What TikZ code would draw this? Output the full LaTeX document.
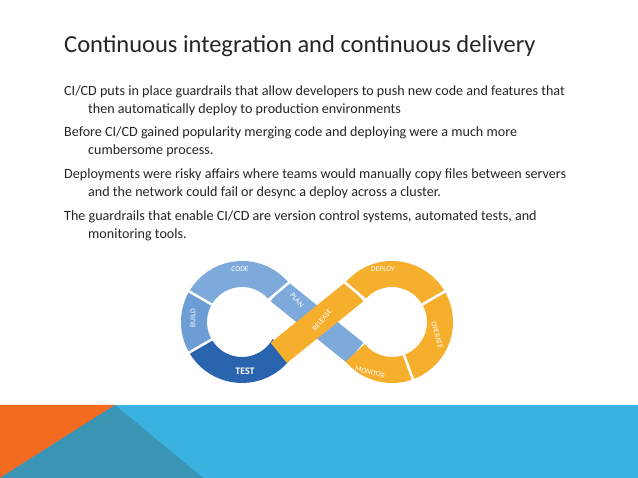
\documentclass[tikz,border=0pt]{standalone}
\usepackage{fontspec}
\setmainfont{Carlito}
\begin{document}
\begin{tikzpicture}[x=1pt,y=1pt,
  body/.style={anchor=base west,inner sep=0pt,font=\fontsize{14.1}{16}\selectfont,text=black!85},
  lbl/.style={text=white,font=\fontsize{7.5}{8}\selectfont,inner sep=0pt},
  seg/.style={line width=26pt},
  cut/.style={white,line width=2.5pt}]
\definecolor{lb}{HTML}{7EAADB}
\definecolor{mb}{HTML}{6C9DD4}
\definecolor{db}{HTML}{2A64AE}
\definecolor{og}{HTML}{F6AE2D}
\definecolor{orr}{HTML}{F26B21}
\definecolor{teal}{HTML}{3A94B4}
\definecolor{sky}{HTML}{3AB2DF}
\useasboundingbox (0,0) rectangle (638,478);
\fill[white] (0,0) rectangle (638,478);
% bottom band
\fill[sky] (0,0) rectangle (638,73);
\fill[orr] (0,73) -- (115,73) -- (0,0) -- cycle;
\fill[teal] (115,73) -- (203,0) -- (0,0) -- cycle;
% title
\node[anchor=base west,inner sep=0pt,font=\fontsize{24.5}{28}\selectfont,text=black!85] (title) at (64,425) {Continuous integration and continuous delivery};
% body
\node[body] (l1) at (64,382) {CI/CD puts in place guardrails that allow developers to push new code and features that};
\node[body] (l2) at (88,364) {then automatically deploy to production environments};
\node[body] (l3) at (64,341) {Before CI/CD gained popularity merging code and deploying were a much more};
\node[body] (l4) at (88,323) {cumbersome process.};
\node[body] (l5) at (64,299) {Deployments were risky affairs where teams would manually copy files between servers};
\node[body] (l6) at (88,281) {and the network could fail or desync a deploy across a cluster.};
\node[body] (l7) at (64,257) {The guardrails that enable CI/CD are version control systems, automated tests, and};
\node[body] (l8) at (88,239) {monitoring tools.};
% infinity
\coordinate (L) at (242,156);
\coordinate (R) at (392,156);
\draw[seg,lb] ([shift={(40:48)}]L) -- ([shift={(220:48)}]R);
\draw[seg,lb] ([shift={(40:48)}]L) arc (40:150:48);
\draw[seg,mb] ([shift={(150:48)}]L) arc (150:210:48);
\draw[seg,db] ([shift={(210:48)}]L) arc (210:330:48);
\draw[seg,og] ([shift={(140:48)}]R) arc (140:30:48);
\draw[seg,og] ([shift={(30:48)}]R) arc (30:-70:48);
\draw[seg,og] ([shift={(-70:48)}]R) arc (-70:-140:48);
\draw[seg,og] ([shift={(-40:48)}]L) -- ([shift={(140:48)}]R);
\draw[cut] ([shift={(150:34)}]L) -- ([shift={(150:62)}]L);
\draw[cut] ([shift={(210:34)}]L) -- ([shift={(210:62)}]L);
\draw[cut] ([shift={(30:34)}]R) -- ([shift={(30:62)}]R);
\draw[cut] ([shift={(-70:34)}]R) -- ([shift={(-70:62)}]R);
\draw[cut] ([shift={(40:34)}]L) -- ([shift={(40:62)}]L);
\draw[cut] ([shift={(140:34)}]R) -- ([shift={(140:62)}]R);
% labels
\node[lbl] (code) at (240,209) {CODE};
\node[lbl,rotate=90] (build) at (193,160) {BUILD};
\node[lbl,font=\fontsize{10}{12}\selectfont\bfseries] (test) at (245,107) {TEST};
\node[lbl,rotate=-50] (plan) at (297,178) {PLAN};
\node[lbl,rotate=50] (rel) at (322,158) {RELEASE};
\node[lbl] (dep) at (383,209) {DEPLOY};
\node[lbl,rotate=-75] (op) at (437,143) {OPERATE};
\node[lbl,rotate=-15] (mon) at (370,106) {MONITOR};
\end{tikzpicture}
\end{document}
